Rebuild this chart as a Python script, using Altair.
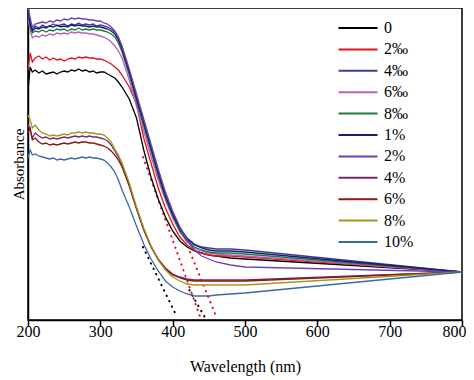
import altair as alt
import pandas as pd

WAVELENGTH = [200, 203, 206, 210, 215, 220, 225, 230, 235, 240, 245, 250, 255, 260, 265,
              270, 275, 280, 285, 290, 295, 300, 305, 310, 315, 320, 325, 330, 340, 350,
              360, 370, 380, 390, 400, 410, 420, 430, 440, 450, 460, 480, 500, 800]

SERIES = ["0", "2‰", "4‰", "6‰", "8‰", "1%", "2%", "4%", "6%", "8%", "10%"]
COLORS = ["#000000", "#e3121b", "#3a3f9c", "#c05cc0", "#1b7a3c", "#1c1c6a",
          "#6a40c0", "#7a2a6e", "#8a1818", "#9c9a1e", "#3a6aa6"]

ABS_0 = [2.30, 2.53, 2.48, 2.50, 2.47, 2.49, 2.46, 2.47, 2.48, 2.46, 2.48, 2.49, 2.48, 2.50, 2.49,
         2.51, 2.49, 2.50, 2.48, 2.49, 2.47, 2.48, 2.48, 2.46, 2.44, 2.42, 2.38, 2.33, 2.21, 2.02,
         1.70, 1.43, 1.21, 1.03, 0.89, 0.79, 0.73, 0.69, 0.67, 0.65, 0.64, 0.62, 0.61, 0.48]
ABS_2PM = [2.50, 2.67, 2.58, 2.62, 2.64, 2.61, 2.63, 2.60, 2.62, 2.60, 2.61, 2.59, 2.61, 2.62, 2.61,
           2.63, 2.62, 2.63, 2.62, 2.62, 2.61, 2.61, 2.60, 2.58, 2.56, 2.53, 2.50, 2.45, 2.33, 2.16,
           1.82, 1.57, 1.32, 1.12, 0.96, 0.83, 0.75, 0.70, 0.67, 0.65, 0.64, 0.64, 0.63, 0.48]
ABS_4PM = [3.08, 2.98, 2.90, 2.94, 2.92, 2.95, 2.93, 2.94, 2.96, 2.94, 2.95, 2.96, 2.94, 2.96, 2.95,
           2.97, 2.95, 2.96, 2.95, 2.96, 2.94, 2.95, 2.94, 2.93, 2.91, 2.88, 2.82, 2.72, 2.49, 2.23,
           1.98, 1.73, 1.48, 1.25, 1.07, 0.92, 0.82, 0.76, 0.73, 0.72, 0.71, 0.71, 0.70, 0.48]
ABS_6PM = [3.00, 2.90, 2.82, 2.84, 2.83, 2.85, 2.84, 2.86, 2.85, 2.87, 2.86, 2.87, 2.86, 2.88, 2.87,
           2.88, 2.87, 2.87, 2.86, 2.86, 2.85, 2.84, 2.83, 2.81, 2.78, 2.74, 2.69, 2.62, 2.40, 2.14,
           1.89, 1.64, 1.40, 1.20, 1.02, 0.88, 0.78, 0.72, 0.69, 0.67, 0.66, 0.65, 0.64, 0.48]
ABS_8PM = [3.05, 2.94, 2.87, 2.89, 2.88, 2.90, 2.88, 2.90, 2.89, 2.91, 2.90, 2.91, 2.89, 2.91, 2.90,
           2.92, 2.90, 2.91, 2.90, 2.91, 2.90, 2.90, 2.89, 2.88, 2.86, 2.83, 2.77, 2.68, 2.45, 2.19,
           1.94, 1.69, 1.44, 1.22, 1.04, 0.89, 0.79, 0.73, 0.70, 0.68, 0.67, 0.67, 0.66, 0.48]
ABS_1PC = [3.10, 2.96, 2.89, 2.92, 2.91, 2.93, 2.92, 2.94, 2.93, 2.95, 2.93, 2.94, 2.93, 2.95, 2.94,
           2.95, 2.94, 2.94, 2.93, 2.94, 2.93, 2.93, 2.92, 2.91, 2.89, 2.86, 2.80, 2.71, 2.48, 2.22,
           1.97, 1.72, 1.47, 1.24, 1.06, 0.91, 0.81, 0.75, 0.72, 0.70, 0.69, 0.69, 0.68, 0.48]
ABS_2PC = [3.14, 3.02, 2.93, 2.96, 2.97, 2.98, 2.97, 2.99, 2.98, 3.00, 2.99, 3.01, 3.00, 3.02, 3.01,
           3.02, 3.01, 3.01, 3.00, 3.00, 2.99, 2.99, 2.97, 2.96, 2.93, 2.89, 2.83, 2.74, 2.51, 2.26,
           2.01, 1.76, 1.51, 1.28, 1.09, 0.93, 0.80, 0.70, 0.64, 0.61, 0.58, 0.55, 0.53, 0.48]
ABS_4PC = [1.96, 1.90, 1.82, 1.87, 1.84, 1.82, 1.83, 1.81, 1.82, 1.81, 1.82, 1.83, 1.82, 1.83, 1.84,
           1.83, 1.84, 1.83, 1.84, 1.83, 1.83, 1.82, 1.81, 1.79, 1.75, 1.69, 1.63, 1.55, 1.35, 1.12,
           0.91, 0.74, 0.61, 0.52, 0.46, 0.43, 0.41, 0.40, 0.40, 0.40, 0.40, 0.40, 0.40, 0.48]
ABS_6PC = [1.87, 1.92, 1.80, 1.82, 1.78, 1.76, 1.77, 1.75, 1.76, 1.75, 1.76, 1.77, 1.76, 1.77, 1.78,
           1.77, 1.78, 1.78, 1.77, 1.77, 1.76, 1.75, 1.74, 1.72, 1.69, 1.65, 1.60, 1.53, 1.34, 1.11,
           0.90, 0.73, 0.60, 0.51, 0.45, 0.42, 0.40, 0.39, 0.39, 0.39, 0.39, 0.39, 0.39, 0.48]
ABS_8PC = [2.05, 2.00, 1.92, 1.95, 1.90, 1.87, 1.86, 1.84, 1.85, 1.84, 1.85, 1.86, 1.85, 1.87, 1.87,
           1.88, 1.87, 1.88, 1.87, 1.87, 1.86, 1.86, 1.85, 1.82, 1.78, 1.71, 1.65, 1.57, 1.37, 1.13,
           0.92, 0.74, 0.60, 0.50, 0.43, 0.39, 0.36, 0.35, 0.35, 0.35, 0.35, 0.35, 0.35, 0.48]
ABS_10PC = [1.62, 1.70, 1.65, 1.66, 1.64, 1.63, 1.62, 1.61, 1.62, 1.60, 1.61, 1.60, 1.61, 1.62, 1.61,
            1.62, 1.63, 1.62, 1.63, 1.62, 1.62, 1.61, 1.60, 1.57, 1.53, 1.48, 1.40, 1.30, 1.13, 0.94,
            0.76, 0.61, 0.49, 0.39, 0.33, 0.29, 0.26, 0.24, 0.24, 0.24, 0.25, 0.26, 0.27, 0.48]

ALL_ABS = [ABS_0, ABS_2PM, ABS_4PM, ABS_6PM, ABS_8PM, ABS_1PC, ABS_2PC,
           ABS_4PC, ABS_6PC, ABS_8PC, ABS_10PC]

# tangent (band-edge extrapolation) dotted lines
BLACK_TANGENT_NAME = ["k1", "k1", "k2", "k2"]
BLACK_TANGENT_WL = [359, 406, 423, 445]
BLACK_TANGENT_ABS = [0.73, 0.03, 0.30, 0.02]
RED_TANGENT_NAME = ["r1", "r1", "r2", "r2"]
RED_TANGENT_WL = [359, 438, 424, 461]
RED_TANGENT_ABS = [1.63, 0.03, 0.68, 0.02]

XTICKS = [200, 250, 300, 350, 400, 450, 500, 550, 600, 650, 700, 750, 800]

rows = []
for name, vals in zip(SERIES, ALL_ABS):
    for w, a in zip(WAVELENGTH, vals):
        rows.append({"wl": w, "abs": a, "sample": name})
df = pd.DataFrame(rows)

kdf = pd.DataFrame({"name": BLACK_TANGENT_NAME, "wl": BLACK_TANGENT_WL, "abs": BLACK_TANGENT_ABS})
rdf = pd.DataFrame({"name": RED_TANGENT_NAME, "wl": RED_TANGENT_WL, "abs": RED_TANGENT_ABS})

SERIF = "Times New Roman, Liberation Serif, serif"

xscale = alt.Scale(domain=[200, 800], nice=False, zero=False)
yscale = alt.Scale(domain=[0, 3.12], nice=False, zero=False)

xaxis = alt.Axis(
    values=XTICKS, title="Wavelength (nm)", grid=False,
    labelExpr="datum.value % 100 === 0 ? datum.label : ''",
    tickSize={"condition": {"test": "datum.value % 100 !== 0", "value": 3}, "value": 6},
    labelAlign={"condition": {"test": "datum.value === 800", "value": "right"}, "value": "center"},
    labelOffset={"condition": {"test": "datum.value === 800", "value": 4}, "value": 0},
    tickColor="black", tickWidth=1.5, domainColor="black", domainWidth=1.5,
    labelFont=SERIF, labelFontSize=16, labelColor="black", labelPadding=-3,
    titleFont=SERIF, titleFontSize=16, titleFontWeight="normal", titleColor="black",
    titlePadding=19, labelFlush=False,
)
yaxis = alt.Axis(
    title="Absorbance", labels=False, ticks=False, grid=False,
    domainColor="black", domainWidth=1.5,
    titleFont=SERIF, titleFontSize=15, titleFontWeight="normal", titleColor="black",
    titlePadding=2,
)

lines = alt.Chart(df).mark_line(strokeWidth=1.3, clip=True).encode(
    x=alt.X("wl:Q", scale=xscale, axis=xaxis),
    y=alt.Y("abs:Q", scale=yscale, axis=yaxis),
    color=alt.Color(
        "sample:N",
        scale=alt.Scale(domain=SERIES, range=COLORS),
        legend=alt.Legend(
            title=None, orient="none", legendX=319, legendY=9,
            symbolType="M-2,0H2", symbolSize=380, symbolStrokeWidth=2,
            labelFont=SERIF, labelFontSize=16, labelColor="black",
            labelOffset=15, rowPadding=2.4,
        ),
    ),
)

def tangent(data, colour):
    return alt.Chart(data).mark_line(
        color=colour, strokeWidth=2, strokeDash=[0.5, 5.5], strokeCap="round", clip=True
    ).encode(
        x=alt.X("wl:Q", scale=xscale),
        y=alt.Y("abs:Q", scale=yscale),
        detail="name:N",
    )

chart = alt.layer(tangent(kdf, "#000000"), tangent(rdf, "#e3121b"), lines).properties(
    width=434, height=312,
    autosize=alt.AutoSizeParams(type="none"),
    padding={"left": 20, "top": 0, "right": 4, "bottom": 58},
).configure_view(stroke="black", strokeWidth=1.5)

chart.save("out.html", embed_options={"renderer": "svg", "actions": False})
